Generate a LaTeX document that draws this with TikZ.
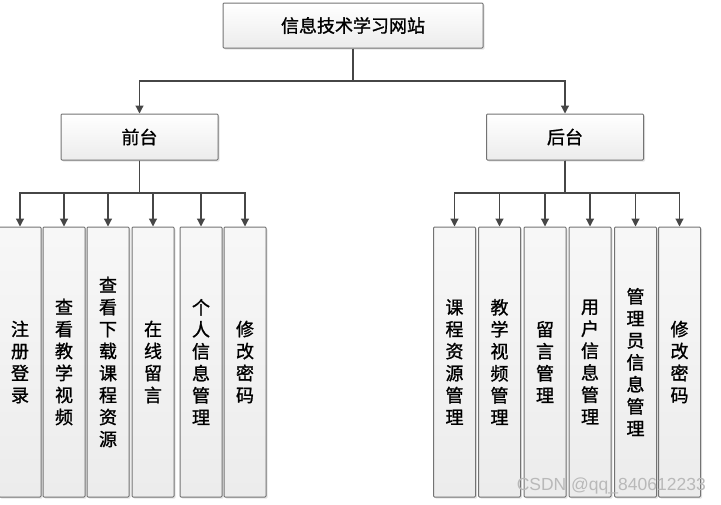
\documentclass[tikz,border=0pt]{standalone}
\usepackage{fontspec}
\usepackage{tikz}
\usetikzlibrary{arrows.meta,shadows}
\newfontfamily\cjk[FakeBold=1.2]{Noto Sans CJK SC}
\definecolor{boxline}{RGB}{115,115,115}
\definecolor{linkgray}{RGB}{70,70,70}

\begin{document}
\begin{tikzpicture}[
  x=1pt, y=-1pt,
  box/.style={draw=boxline, line width=1pt, rounded corners=1pt, top color=white, bottom color=gray!15,
    drop shadow={shadow xshift=1.5pt, shadow yshift=-1.5pt, fill=gray!35, opacity=0.6},
    align=center, font=\cjk\fontsize{18}{22}\selectfont, inner sep=0pt},
  mainbox/.style={box, minimum width=260pt, minimum height=45pt},
  partbox/.style={box, minimum width=157pt, minimum height=46pt},
  leaf/.style={box, minimum width=42pt, minimum height=270pt, top color=gray!6, bottom color=gray!15},
  link/.style={draw=linkgray, line width=1.2pt},
  >={Triangle[length=8pt,width=8pt]}
]
\useasboundingbox (0,0) rectangle (721,504);

\node[mainbox] (site) at (353,25.5) {信息技术学习网站};
\node[partbox] (front) at (139.5,137) {前台};
\node[partbox] (back) at (565,137) {后台};

% front-end modules
\node[leaf] (f1) at (20,362) {注\\册\\登\\录};
\node[leaf] (f2) at (64,362) {查\\看\\教\\学\\视\\频};
\node[leaf] (f3) at (108,362) {查\\看\\下\\载\\课\\程\\资\\源};
\node[leaf] (f4) at (153,362) {在\\线\\留\\言};
\node[leaf] (f5) at (201,362) {个\\人\\信\\息\\管\\理};
\node[leaf] (f6) at (245,362) {修\\改\\密\\码};

% back-end modules
\node[leaf] (b1) at (454.5,362) {课\\程\\资\\源\\管\\理};
\node[leaf] (b2) at (499.5,362) {教\\学\\视\\频\\管\\理};
\node[leaf] (b3) at (545,362) {留\\言\\管\\理};
\node[leaf] (b4) at (590,362) {用\\户\\信\\息\\管\\理};
\node[leaf] (b5) at (635.5,362) {管\\理\\员\\信\\息\\管\\理};
\node[leaf] (b6) at (679.5,362) {修\\改\\密\\码};

\coordinate (sbus) at (353,81);
\coordinate (fbus) at (139.5,193);
\coordinate (bbus) at (565,193);

\draw[link,->] (site) -- (sbus) -| (front);
\draw[link,->] (site) -- (sbus) -| (back);

\draw[link,->] (front) -- (fbus) -| (f1);
\draw[link,->] (front) -- (fbus) -| (f2);
\draw[link,->] (front) -- (fbus) -| (f3);
\draw[link,->] (front) -- (fbus) -| (f4);
\draw[link,->] (front) -- (fbus) -| (f5);
\draw[link,->] (front) -- (fbus) -| (f6);

\draw[link,->] (back) -- (bbus) -| (b1);
\draw[link,->] (back) -- (bbus) -| (b2);
\draw[link,->] (back) -- (bbus) -| (b3);
\draw[link,->] (back) -- (bbus) -| (b4);
\draw[link,->] (back) -- (bbus) -| (b5);
\draw[link,->] (back) -- (bbus) -| (b6);

\node[text=gray!55, font=\fontspec{Liberation Sans}\fontsize{17.5}{17.5}\selectfont, anchor=east, inner sep=0pt] (mark) at (706,486) {CSDN @qq\_840612233};
\end{tikzpicture}
\end{document}
